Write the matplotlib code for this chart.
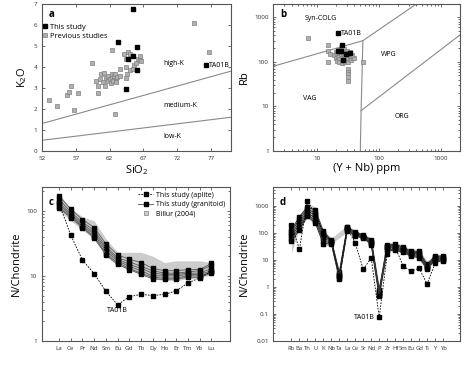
import numpy as np
import matplotlib.pyplot as plt
from matplotlib.lines import Line2D

plt.rcParams['font.family'] = ['Open Sans', 'DejaVu Sans']
plt.rcParams['mathtext.fontset'] = 'custom'
plt.rcParams['mathtext.rm'] = 'Open Sans'
plt.rcParams['mathtext.it'] = 'Open Sans:italic'

# ---- panel a: K2O vs SiO2 ----
this_sio2 = [65.5, 63.3, 66.0, 65.5, 64.7, 66.1, 64.4]
this_k2o = [6.75, 5.2, 4.95, 4.52, 4.4, 3.87, 2.96]
ta01b_sio2 = 76.3
ta01b_k2o = 4.09
prev_sio2 = [53.0, 54.2, 55.7, 56.0, 56.3, 56.7, 57.4, 59.4, 60.3, 60.0, 60.3, 60.6, 60.8,
             61.1, 61.2, 61.5, 61.7, 61.8, 62.0, 62.2, 62.3, 62.4, 62.5, 62.7, 62.8, 62.9,
             63.0, 63.1, 61.3, 62.3, 62.8, 63.6, 63.6, 64.4, 64.6, 64.1, 64.8, 64.5, 65.1,
             64.4, 65.1, 65.5, 65.6, 65.9, 66.2, 66.5, 66.5, 66.7, 74.5, 76.7]
prev_k2o = [2.4, 2.16, 2.67, 2.8, 3.1, 1.96, 2.76, 4.19, 2.75, 3.32, 3.1, 3.43, 3.67,
            3.27, 3.72, 3.48, 3.35, 3.55, 3.42, 3.23, 3.64, 3.48, 3.32, 3.55, 3.67, 3.4,
            3.26, 3.51, 3.07, 4.8, 1.76, 3.56, 3.91, 3.47, 3.67, 4.6, 4.71, 4.36, 4.63,
            4.0, 3.83, 3.88, 4.07, 4.19, 4.39, 4.31, 4.5, 4.27, 6.1, 4.71]
highk_line_x = [52, 80]
highk_line_y = [1.3, 3.8]
lowk_line_x = [52, 80]
lowk_line_y = [0.5, 1.6]

# ---- panel b: Rb vs Y+Nb ----
prev_ynb = [7.1, 15.2, 15.2, 16.2, 15.2, 54.5, 32, 32, 32, 32, 32,
            19, 20, 20, 21, 21, 22, 22, 23, 23, 23, 24, 24, 25, 25, 25, 26, 26, 27, 27,
            28, 28, 28, 29, 29, 30, 30, 31, 31, 32, 32, 33, 34, 35, 36, 38, 40, 37, 34]
prev_rb = [347, 245, 175, 152, 101, 100, 69, 60, 52, 45, 38,
           140, 120, 165, 105, 150, 130, 185, 115, 160, 100, 140, 200, 125, 170, 95, 150, 110, 135, 190,
           120, 160, 98, 145, 110, 130, 175, 115, 155, 125, 100, 140, 118, 130, 110, 125, 120, 145, 165]
this_ynb = [25.6, 24.4, 29.6, 34, 26.5, 22]
this_rb = [235, 175, 152, 155, 109, 180]
ta01b_ynb = 21.6
ta01b_rb = 435
syncolg_vag = ([2, 55], [80, 300])
syncolg_wpg = ([55, 400], [300, 2000])
vag_wpg = ([50, 51.5, 55], [1, 8, 300])
wpg_org = ([51.5, 2000], [8, 400])

# ---- panel c: REE ----
ree = ['La', 'Ce', 'Pr', 'Nd', 'Sm', 'Eu', 'Gd', 'Tb', 'Dy', 'Ho', 'Er', 'Tm', 'Yb', 'Lu']
ree_aplite = [130, 42, 17.5, 10.8, 5.8, 3.6, 4.8, 5.2, 5.0, 5.2, 5.9, 7.8, 9.3, 11.8]
ree_granitoid = [
    [170, 105, 73, 55, 31, 21, 18, 16, 13, 12, 12, 12.5, 12.5, 15.5],
    [150, 95, 66, 50, 28, 19, 16.5, 14, 12, 11, 11, 11.5, 12, 14.5],
    [135, 88, 62, 46, 26, 18, 15, 13, 11, 10.5, 10.5, 11, 11, 13],
    [125, 84, 59, 43, 24, 17, 14, 12, 10, 10, 10, 10.5, 10.5, 12],
    [115, 80, 56, 40, 22, 16, 13, 11, 9.5, 9.2, 9.3, 10, 10, 11.5],
    [110, 78, 55, 38, 21, 15, 12.5, 10.5, 9, 8.8, 9, 9.5, 9.5, 11],
]
ree_billur_hi = [175, 110, 80, 70, 37, 23, 23, 23, 20, 16, 17, 17, 17, 16]
ree_billur_lo = [100, 70, 50, 37, 20, 14.5, 12.5, 10.5, 9, 8.5, 8.5, 9, 9.3, 10.5]

# ---- panel d: spider diagram ----
spider = ['Rb', 'Ba', 'Th', 'U', 'K', 'Nb', 'Ta', 'La', 'Ce', 'Sr', 'Nd', 'P', 'Zr', 'Hf',
          'Sm', 'Eu', 'Gd', 'Ti', 'Y', 'Yb']
spider_aplite = [200, 25, 1500, 500, 100, 50, 2.5, 150, 42, 4.5, 12, 0.075, 16, 30,
                 6, 3.8, 5, 1.3, 7.5, 10]
spider_granitoid = [
    [130, 400, 900, 700, 115, 55, 3.5, 170, 110, 85, 56, 0.8, 37, 38, 30, 21, 21, 7.0, 14, 14],
    [110, 330, 750, 550, 95, 52, 3.1, 160, 100, 80, 52, 0.7, 34, 34, 28, 19, 19, 6.2, 13, 13],
    [90, 250, 650, 450, 80, 50, 2.8, 150, 95, 76, 48, 0.6, 31, 31, 25, 18, 17, 5.8, 12, 12],
    [75, 200, 550, 350, 65, 47, 2.5, 140, 88, 72, 44, 0.55, 29, 28, 23, 16, 15, 5.3, 11, 11],
    [60, 160, 480, 280, 50, 43, 2.2, 130, 82, 68, 40, 0.5, 26, 25, 21, 15, 13.5, 4.9, 10.5, 10],
    [50, 130, 420, 230, 40, 40, 2.0, 120, 76, 64, 37, 0.45, 24, 23, 19, 14, 12, 4.5, 10, 9],
]
# Billur (2004) band has no Ta
billur_elems = ['Rb', 'Ba', 'Th', 'U', 'K', 'Nb', 'La', 'Ce', 'Sr', 'Nd', 'P', 'Zr', 'Hf',
                'Sm', 'Eu', 'Gd', 'Ti', 'Y', 'Yb']
spider_billur_hi = [110, 450, 1300, 900, 120, 65, 190, 120, 95, 65, 1.2, 42, 45, 35, 25, 25, 9, 16, 16]
spider_billur_lo = [18, 150, 350, 200, 30, 40, 110, 75, 60, 38, 0.4, 22, 22, 18, 13, 12, 5, 9, 9]

band_col = '#cccccc'
gray_face = '#b0b0b0'
gray_edge = '#808080'
line_col = '#8a8a8a'
ms = 2.8
lab_fs = 8


def style_axes(ax):
    for s in ax.spines.values():
        s.set_color('#555555')
        s.set_linewidth(0.8)
    ax.tick_params(which='both', direction='in', top=True, right=True,
                   labelsize=4.5, width=0.5, colors='#333333')
    ax.tick_params(which='major', length=2.2)
    ax.tick_params(which='minor', length=1.2)


fig = plt.figure(figsize=(4.74, 3.66), dpi=100)
ax_a = fig.add_axes([0.0886, 0.588, 0.399, 0.401])
ax_b = fig.add_axes([0.577, 0.588, 0.393, 0.401])
ax_c = fig.add_axes([0.0886, 0.068, 0.397, 0.421])
ax_d = fig.add_axes([0.577, 0.068, 0.393, 0.421])

# panel a
ax = ax_a
ax.plot(highk_line_x, highk_line_y, color=line_col, lw=0.8)
ax.plot(lowk_line_x, lowk_line_y, color=line_col, lw=0.8)
ax.plot(prev_sio2, prev_k2o, 's', ms=ms, mfc=gray_face, mec=gray_edge, mew=0.5)
ax.plot(this_sio2, this_k2o, 's', ms=ms, color='k')
ax.plot([ta01b_sio2], [ta01b_k2o], 's', ms=ms, color='k')
ax.text(ta01b_sio2 + 0.4, ta01b_k2o, 'TA01B', fontsize=5, va='center')
ax.text(70, 4.14, 'high-K', fontsize=5, va='center')
ax.text(70, 2.17, 'medium-K', fontsize=5, va='center')
ax.text(70, 0.7, 'low-K', fontsize=5, va='center')
ax.set_xlim(52, 80)
ax.set_ylim(0, 7)
ax.set_xticks([52, 57, 62, 67, 72, 77])
ax.set_yticks(range(8))
ax.set_xlabel('SiO$_2$', fontsize=lab_fs, labelpad=2)
ax.set_ylabel('K$_2$O', fontsize=lab_fs, labelpad=3)
ax.text(0.035, 0.93, 'a', transform=ax.transAxes, fontsize=7, fontweight='bold', va='center')
leg_a = [Line2D([], [], ls='none', marker='s', ms=2.5, color='k'),
         Line2D([], [], ls='none', marker='s', ms=2.5, mfc=gray_face, mec=gray_edge, mew=0.5)]
ax.legend(leg_a, ['This study', 'Previous studies'], loc='upper left', bbox_to_anchor=(-0.02, 0.9),
          frameon=False, fontsize=5.5, handlelength=0.6, handletextpad=0.3, labelspacing=0.25,
          borderaxespad=0.2)
style_axes(ax)

# panel b
ax = ax_b
for xs, ys in (syncolg_vag, syncolg_wpg, vag_wpg, wpg_org):
    ax.plot(xs, ys, color=line_col, lw=0.8)
ax.plot(prev_ynb, prev_rb, 's', ms=ms, mfc=gray_face, mec=gray_edge, mew=0.5)
ax.plot(this_ynb, this_rb, 's', ms=ms, color='k')
ax.plot([ta01b_ynb], [ta01b_rb], 's', ms=ms, color='k')
ax.text(ta01b_ynb * 1.12, ta01b_rb, 'TA01B', fontsize=5, va='center')
ax.text(11.5, 950, 'Syn-COLG', fontsize=5, ha='center', va='center')
ax.text(141, 145, 'WPG', fontsize=5, ha='center', va='center')
ax.text(7.7, 15, 'VAG', fontsize=5, ha='center', va='center')
ax.text(235, 5.8, 'ORG', fontsize=5, ha='center', va='center')
ax.set_xscale('log')
ax.set_yscale('log')
ax.set_xlim(2, 2000)
ax.set_ylim(1, 2000)
ax.set_xticks([10, 100, 1000])
ax.set_xticklabels(['10', '100', '1000'])
ax.set_yticks([1, 10, 100, 1000])
ax.set_yticklabels(['1', '10', '100', '1000'])
ax.set_xlabel('(Y + Nb) ppm', fontsize=lab_fs, labelpad=2)
ax.set_ylabel('Rb', fontsize=lab_fs, labelpad=3)
ax.text(0.035, 0.93, 'b', transform=ax.transAxes, fontsize=7, fontweight='bold', va='center')
style_axes(ax)

# panel c
ax = ax_c
xr = np.arange(len(ree))
ax.fill_between(xr, ree_billur_lo, ree_billur_hi, color=band_col, lw=0)
for g in ree_granitoid:
    ax.plot(xr, g, '-', color='#666666', lw=0.7, marker='s', ms=2.6, mfc='k', mec='k')
ax.plot(xr, ree_aplite, '--', color='k', lw=0.6, marker='s', ms=2.6, dashes=(2, 1.5))
ax.text(5, 2.9, 'TA01B', fontsize=5, ha='center', va='center')
ax.set_yscale('log')
ax.set_ylim(1, 230)
ax.set_xlim(-1.45, 14.6)
ax.set_xticks(xr)
ax.set_xticklabels(ree)
ax.set_yticks([1, 10, 100])
ax.set_yticklabels(['1', '10', '100'])
ax.set_ylabel('N/Chondrite', fontsize=lab_fs, labelpad=3)
ax.text(0.035, 0.9, 'c', transform=ax.transAxes, fontsize=7, fontweight='bold', va='center')
leg_c = [Line2D([], [], color='k', ls='--', lw=0.6, marker='s', ms=2.6, dashes=(2, 1.5)),
         Line2D([], [], color='#666666', ls='-', lw=0.7, marker='s', ms=2.6, mfc='k', mec='k'),
         Line2D([], [], ls='none', marker='s', ms=2.6, mfc=band_col, mec=gray_edge, mew=0.5)]
ax.legend(leg_c, ['This study (aplite)', 'This study (granitoid)', 'Billur (2004)'],
          loc='upper right', frameon=False, fontsize=5, handlelength=2.2, handletextpad=0.4,
          labelspacing=0.3, borderaxespad=0.3)
style_axes(ax)
ax.tick_params(axis='x', which='minor', bottom=False, top=False)

# panel d
ax = ax_d
xs = np.arange(len(spider))
xb = [spider.index(e) for e in billur_elems]
ax.fill_between(xb, spider_billur_lo, spider_billur_hi, color=band_col, lw=0)
for g in spider_granitoid:
    ax.plot(xs, g, '-', color='#333333', lw=0.7, marker='s', ms=2.6, mfc='k', mec='k')
ax.plot(xs, spider_aplite, '--', color='k', lw=0.6, marker='s', ms=2.6, dashes=(2, 1.5))
ax.text(spider.index('P') - 0.5, 0.075, 'TA01B', fontsize=5, ha='right', va='center')
ax.set_yscale('log')
ax.set_ylim(0.01, 5000)
ax.set_xlim(-2.25, 21.1)
ax.set_xticks(xs)
ax.set_xticklabels(spider)
ax.set_yticks([0.01, 0.1, 1, 10, 100, 1000])
ax.set_yticklabels(['0.01', '0.1', '1', '10', '100', '1000'])
ax.set_ylabel('N/Chondrite', fontsize=lab_fs, labelpad=3)
ax.text(0.035, 0.9, 'd', transform=ax.transAxes, fontsize=7, fontweight='bold', va='center')
style_axes(ax)
ax.tick_params(axis='x', labelsize=4.2)

fig.savefig('out.png', dpi=100)
